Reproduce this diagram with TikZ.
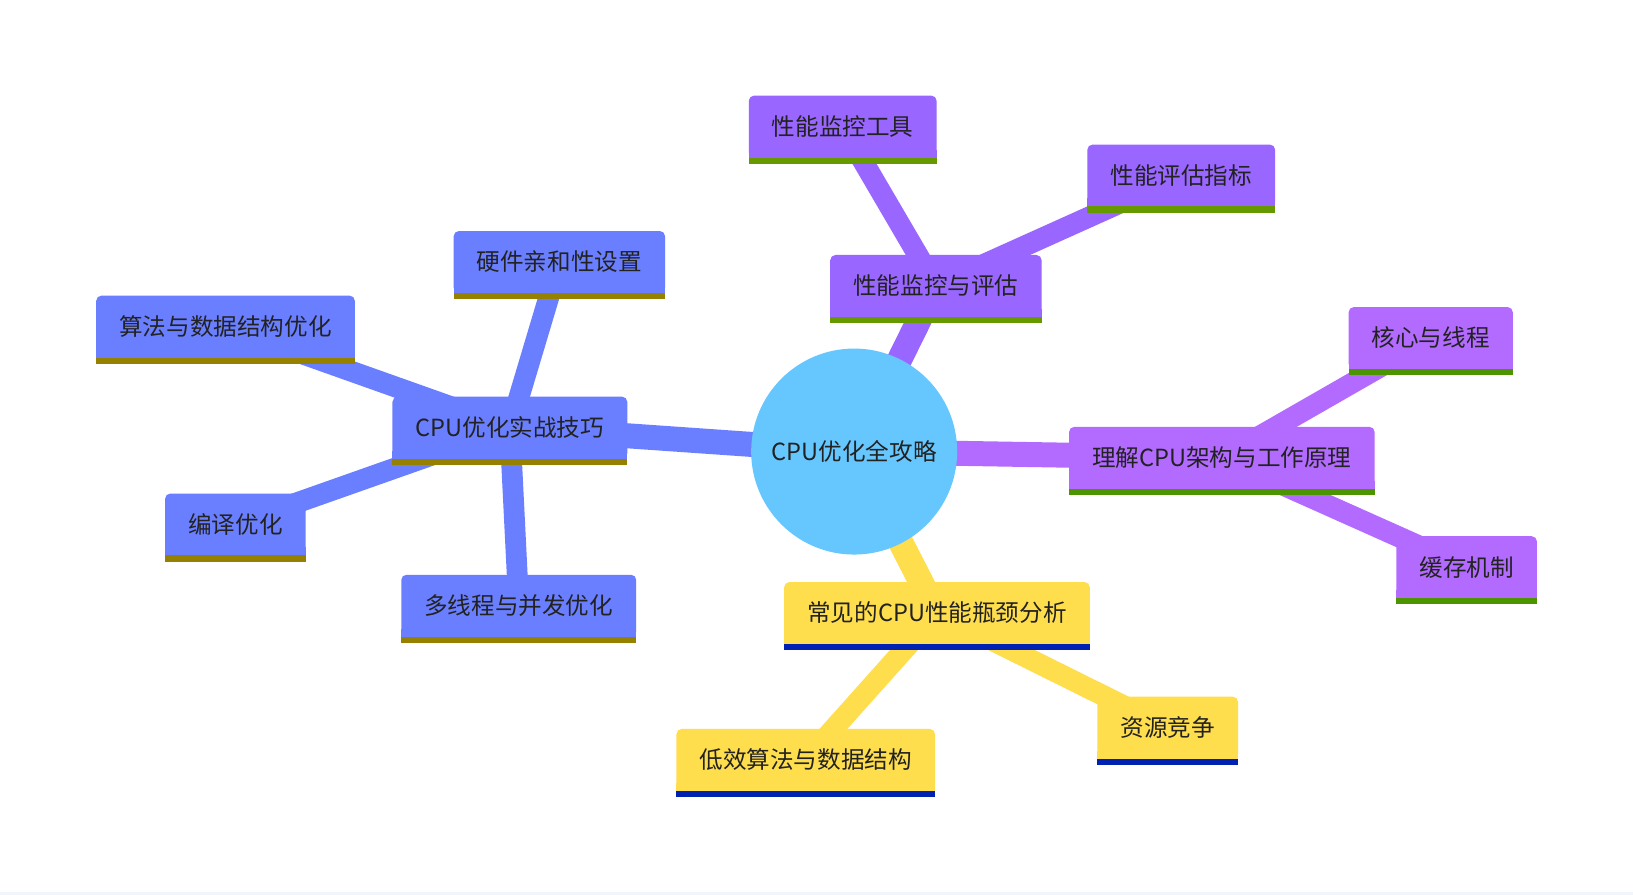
\documentclass[tikz,border=0pt]{standalone}
\usepackage{fontspec}
\setmainfont{Noto Sans CJK SC}
\definecolor{bluefill}{RGB}{106,127,255}
\definecolor{blueul}{RGB}{149,128,0}
\definecolor{purafill}{RGB}{153,102,255}
\definecolor{puraul}{RGB}{102,153,0}
\definecolor{purbfill}{RGB}{179,107,255}
\definecolor{purbul}{RGB}{76,148,0}
\definecolor{yelfill}{RGB}{255,222,77}
\definecolor{yelul}{RGB}{0,33,178}
\definecolor{rootfill}{RGB}{102,199,255}
\definecolor{txtc}{HTML}{222222}
\definecolor{stripc}{HTML}{F2F5FC}
\pgfdeclarelayer{bglayer}
\pgfdeclarelayer{edgelayer}
\pgfdeclarelayer{boxlayer}
\pgfsetlayers{bglayer,edgelayer,boxlayer,main}
\begin{document}
\begin{tikzpicture}[x=1.04167pt,y=-1.04167pt,
  mmtext/.style={font=\fontsize{23.6pt}{28pt}\selectfont, text=txtc},
  mmbox/.style={mmtext, inner xsep=22.9pt, inner ysep=0pt, minimum height=61.5pt,
    text height=20.8pt, text depth=2.9pt},
  rootnode/.style={mmtext, circle, fill=rootfill, minimum size=206pt, inner sep=0pt,
    text height=20.8pt, text depth=2.9pt},
  edgeA/.style={line width=25pt},
  edgeB/.style={line width=20.8pt}
]
\begin{pgfonlayer}{bglayer}
\fill[white] (0,0) rectangle (1567.7,859.2);
\fill[stripc] (0,856.3) rectangle (1567.7,859.2);
\end{pgfonlayer}
\useasboundingbox (0,0) rectangle (1567.7,859.2);

\node[rootnode] (root) at (820,433.5) {CPU优化全攻略};

\node[mmbox] (jk) at (898.5,274.5) {性能监控与评估};
\node[mmbox] (gj) at (809,121.5) {性能监控工具};
\node[mmbox] (zb) at (1134,168.5) {性能评估指标};

\node[mmbox] (lj) at (1173,439.5) {理解CPU架构与工作原理};
\node[mmbox] (hx) at (1373.5,324.5) {核心与线程};
\node[mmbox] (hc) at (1408,544.5) {缓存机制};

\node[mmbox] (cj) at (899.5,588.5) {常见的CPU性能瓶颈分析};
\node[mmbox] (zy) at (1121,698.5) {资源竞争};
\node[mmbox] (dx) at (773.5,729.5) {低效算法与数据结构};

\node[mmbox] (sz) at (489.5,410.5) {CPU优化实战技巧};
\node[mmbox] (yj) at (537,251.5) {硬件亲和性设置};
\node[mmbox] (sf) at (216.5,313.5) {算法与数据结构优化};
\node[mmbox] (by) at (226,503.5) {编译优化};
\node[mmbox] (dxc) at (498,581.5) {多线程与并发优化};

\begin{pgfonlayer}{boxlayer}
\foreach \n/\c in {jk/pura,gj/pura,zb/pura,lj/purb,hx/purb,hc/purb,cj/yel,zy/yel,dx/yel,sz/blue,yj/blue,sf/blue,by/blue,dxc/blue}{
  \fill[\c fill, rounded corners=5.2pt] (\n.south west) rectangle (\n.north east);
  \fill[\c fill] ([yshift=8pt]\n.south west) rectangle (\n.south east);
  \fill[\c ul] (\n.south west) rectangle ([yshift=-6.3pt]\n.south east);
}
\end{pgfonlayer}

\begin{pgfonlayer}{edgelayer}
\draw[edgeA, purafill] (root.center) -- (jk.center);
\draw[edgeB, purafill] (jk.center) -- (gj.center);
\draw[edgeB, purafill] (jk.center) -- (zb.center);
\draw[edgeA, purbfill] (root.center) -- (lj.center);
\draw[edgeB, purbfill] (lj.center) -- (hx.center);
\draw[edgeB, purbfill] (lj.center) -- (hc.center);
\draw[edgeA, yelfill] (root.center) -- (cj.center);
\draw[edgeB, yelfill] (cj.center) -- (zy.center);
\draw[edgeB, yelfill] (cj.center) -- (dx.center);
\draw[edgeA, bluefill] (root.center) -- (sz.center);
\draw[edgeB, bluefill] (sz.center) -- (yj.center);
\draw[edgeB, bluefill] (sz.center) -- (sf.center);
\draw[edgeB, bluefill] (sz.center) -- (by.center);
\draw[edgeB, bluefill] (sz.center) -- (dxc.center);
\end{pgfonlayer}
\end{tikzpicture}
\end{document}
